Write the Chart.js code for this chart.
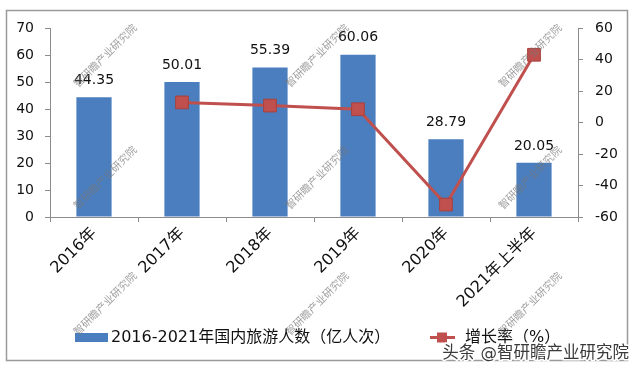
<!DOCTYPE html>
<html>
<head>
<meta charset="utf-8">
<script src="https://cdn.jsdelivr.net/npm/chart.js@4/dist/chart.umd.min.js"></script>
<style>
  html, body { margin: 0; padding: 0; background: #fff; }
  #wrap { width: 640px; height: 367px; }
</style>
</head>
<body>
<div id="wrap"><canvas id="chart" width="640" height="367"></canvas></div>
<script>
const categories = ["2016年", "2017年", "2018年", "2019年", "2020年", "2021年上半年"];
const visitors = [44.35, 50.01, 55.39, 60.06, 28.79, 20.05];
const growth = [null, 12.76, 10.76, 8.43, -52.1, 43];
const visitorsLabel = "2016-2021年国内旅游人数（亿人次）";
const growthLabel = "增长率（%）";
const watermark = "智研瞻产业研究院";
const sourceNote = "头条 @智研瞻产业研究院";

const FONT = '"DejaVu Sans", "Noto Sans CJK SC", sans-serif';
const BLUE = "#4A7EBF";
const RED = "#C0504D";

// frame, bar values, legend, watermarks
const extras = {
  id: "extras",
  beforeDraw(chart) {
    const c = chart.ctx;
    c.save();
    c.fillStyle = "#fff";
    c.fillRect(0, 0, chart.width, chart.height);
    c.strokeStyle = "#9a9a9a";
    c.lineWidth = 1.5;
    c.strokeRect(6.5, 10.5, 621, 350);
    c.restore();
  },
  afterDatasetsDraw(chart) {
    const c = chart.ctx;
    c.save();
    c.font = "14px " + FONT;
    c.fillStyle = "#111";
    c.textAlign = "center";
    c.textBaseline = "bottom";
    chart.getDatasetMeta(0).data.forEach((bar, i) => {
      c.fillText(visitors[i].toFixed(2), bar.x, bar.y - 10);
    });
    c.restore();
  },
  afterDraw(chart) {
    const c = chart.ctx;
    const [bars, line] = chart.data.datasets;
    c.save();
    // legend
    const ly = 337.5;
    c.font = "16px " + FONT;
    c.textBaseline = "middle";
    c.textAlign = "left";
    c.fillStyle = bars.backgroundColor;
    c.fillRect(75, ly - 4.5, 33, 9);
    c.fillStyle = "#111";
    c.fillText(bars.label, 111, ly);
    c.strokeStyle = line.borderColor;
    c.lineWidth = 3;
    c.beginPath(); c.moveTo(430, ly); c.lineTo(455, ly); c.stroke();
    c.fillStyle = line.pointBackgroundColor;
    c.fillRect(437, ly - 5, 10, 10);
    c.fillStyle = "#111";
    c.fillText(line.label, 465, ly);

    // watermarks
    c.font = "10.5px " + FONT;
    c.fillStyle = "rgba(120,120,120,0.7)";
    c.textBaseline = "alphabetic";
    [78, 290, 503].forEach(x => {
      [88, 210, 336].forEach(y => {
        c.save();
        c.translate(x, y);
        c.rotate(-Math.PI / 4);
        c.fillText(watermark, 0, 0);
        c.restore();
      });
    });

    // source note
    c.font = "16.5px " + FONT;
    c.textAlign = "right";
    c.lineWidth = 3;
    c.strokeStyle = "#fff";
    c.strokeText(sourceNote, 629, 358);
    c.fillStyle = "#3a3a3a";
    c.fillText(sourceNote, 629, 358);
    c.restore();
  }
};

new Chart(document.getElementById("chart"), {
  data: {
    labels: categories,
    datasets: [
      {
        type: "bar",
        label: visitorsLabel,
        data: visitors,
        yAxisID: "y",
        backgroundColor: BLUE,
        barPercentage: 0.4,
        categoryPercentage: 1,
        order: 1
      },
      {
        type: "line",
        label: growthLabel,
        data: growth,
        yAxisID: "y2",
        borderColor: RED,
        borderWidth: 3,
        pointStyle: "rect",
        pointRadius: 9,
        pointBackgroundColor: RED,
        pointBorderColor: "#A8403D",
        pointBorderWidth: 1,
        order: 0
      }
    ]
  },
  options: {
    responsive: false,
    animation: false,
    layout: { padding: { top: 28, left: 0, right: 0, bottom: 0 } },
    plugins: { legend: { display: false }, tooltip: { enabled: false } },
    scales: {
      x: {
        offset: true,
        grid: { offset: true, drawOnChartArea: false, tickLength: 5, color: "#8c8c8c" },
        border: { color: "#8c8c8c" },
        ticks: { minRotation: 45, maxRotation: 45, padding: 2, color: "#111", font: { family: FONT, size: 16 } },
        afterFit(s) { s.height = 150; }
      },
      y: {
        position: "left",
        min: 0, max: 70,
        grid: { drawOnChartArea: false, tickLength: 5, color: "#8c8c8c" },
        border: { color: "#8c8c8c" },
        ticks: { stepSize: 10, padding: 11, color: "#111", font: { family: FONT, size: 14 } },
        afterFit(s) { s.width = 50; }
      },
      y2: {
        position: "right",
        min: -60, max: 60,
        grid: { drawOnChartArea: false, tickLength: 5, color: "#8c8c8c" },
        border: { color: "#8c8c8c" },
        ticks: { stepSize: 20, padding: 12, color: "#111", font: { family: FONT, size: 14 } },
        afterFit(s) { s.width = 62; }
      }
    }
  },
  plugins: [extras]
});
</script>
</body>
</html>
